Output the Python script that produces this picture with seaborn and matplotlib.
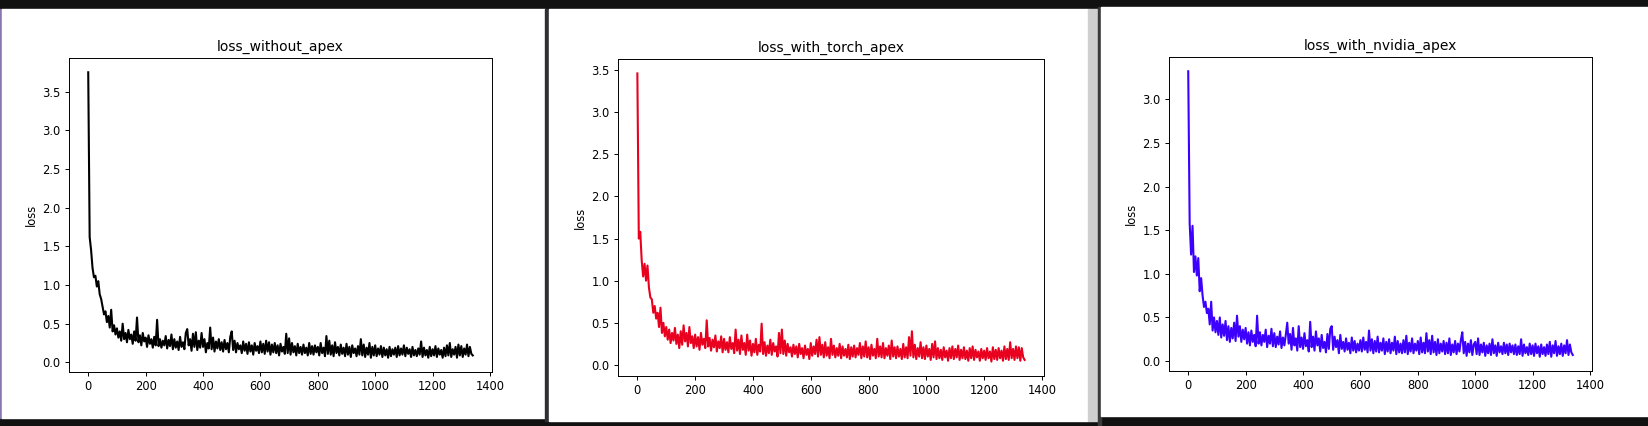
import numpy as np
import seaborn as sns
import matplotlib.pyplot as plt
from matplotlib.patches import Rectangle

# loss, one value every 5 iterations
step_interval = 5

loss_without_apex = [
    3.75, 1.62, 1.45, 1.22, 1.10, 1.12, 0.98, 1.05, 0.88, 0.82,
    0.72, 0.62, 0.66, 0.52, 0.60, 0.45, 0.68, 0.40, 0.48, 0.36,
    0.44, 0.32, 0.40, 0.28, 0.50, 0.30, 0.38, 0.26, 0.42, 0.30,
    0.36, 0.24, 0.40, 0.28, 0.58, 0.26, 0.35, 0.22, 0.38, 0.27,
    0.32, 0.20, 0.35, 0.24, 0.30, 0.19, 0.33, 0.22, 0.55, 0.21,
    0.30, 0.19, 0.28, 0.22, 0.34, 0.18, 0.29, 0.21, 0.36, 0.17,
    0.30, 0.19, 0.27, 0.16, 0.33, 0.20, 0.26, 0.17, 0.38, 0.43,
    0.22, 0.30, 0.15, 0.37, 0.20, 0.39, 0.16, 0.28, 0.19, 0.38,
    0.20, 0.30, 0.13, 0.25, 0.18, 0.45, 0.17, 0.32, 0.14, 0.27,
    0.18, 0.30, 0.16, 0.26, 0.14, 0.29, 0.17, 0.25, 0.13, 0.33,
    0.40, 0.16, 0.28, 0.13, 0.25, 0.17, 0.22, 0.12, 0.27, 0.15,
    0.24, 0.11, 0.26, 0.14, 0.22, 0.10, 0.25, 0.15, 0.21, 0.12,
    0.27, 0.13, 0.24, 0.11, 0.28, 0.14, 0.26, 0.10, 0.23, 0.13,
    0.25, 0.12, 0.22, 0.09, 0.24, 0.14, 0.20, 0.11, 0.37, 0.12,
    0.31, 0.10, 0.25, 0.13, 0.21, 0.09, 0.24, 0.12, 0.20, 0.10,
    0.23, 0.12, 0.19, 0.09, 0.25, 0.11, 0.21, 0.10, 0.22, 0.13,
    0.20, 0.09, 0.25, 0.12, 0.19, 0.08, 0.34, 0.11, 0.28, 0.10,
    0.22, 0.08, 0.26, 0.12, 0.20, 0.09, 0.23, 0.11, 0.19, 0.08,
    0.24, 0.10, 0.20, 0.07, 0.22, 0.12, 0.18, 0.08, 0.21, 0.10,
    0.30, 0.09, 0.23, 0.07, 0.19, 0.10, 0.25, 0.06, 0.20, 0.09,
    0.22, 0.08, 0.18, 0.10, 0.21, 0.07, 0.19, 0.09, 0.17, 0.06,
    0.20, 0.08, 0.17, 0.10, 0.19, 0.07, 0.21, 0.09, 0.18, 0.10,
    0.22, 0.08, 0.19, 0.11, 0.17, 0.07, 0.20, 0.09, 0.16, 0.08,
    0.18, 0.10, 0.27, 0.07, 0.19, 0.09, 0.16, 0.06, 0.20, 0.08,
    0.17, 0.09, 0.21, 0.07, 0.18, 0.10, 0.16, 0.06, 0.19, 0.08,
    0.22, 0.09, 0.25, 0.07, 0.17, 0.10, 0.20, 0.06, 0.23, 0.09,
    0.21, 0.07, 0.18, 0.10, 0.23, 0.08, 0.20, 0.11, 0.09,
]

loss_with_torch_apex = [
    3.46, 1.50, 1.58, 1.24, 1.05, 1.20, 1.00, 1.18, 0.92, 0.80,
    0.78, 0.62, 0.70, 0.55, 0.62, 0.45, 0.68, 0.38, 0.50, 0.34,
    0.45, 0.30, 0.42, 0.26, 0.38, 0.29, 0.44, 0.25, 0.36, 0.20,
    0.40, 0.24, 0.47, 0.28, 0.38, 0.22, 0.45, 0.26, 0.34, 0.20,
    0.36, 0.22, 0.33, 0.18, 0.38, 0.24, 0.31, 0.20, 0.53, 0.22,
    0.32, 0.17, 0.30, 0.21, 0.35, 0.16, 0.28, 0.20, 0.34, 0.15,
    0.31, 0.18, 0.27, 0.15, 0.33, 0.19, 0.26, 0.14, 0.42, 0.17,
    0.30, 0.13, 0.35, 0.18, 0.26, 0.12, 0.36, 0.17, 0.29, 0.11,
    0.25, 0.15, 0.31, 0.12, 0.24, 0.16, 0.49, 0.13, 0.27, 0.11,
    0.23, 0.14, 0.30, 0.12, 0.26, 0.16, 0.22, 0.10, 0.38, 0.14,
    0.42, 0.13, 0.29, 0.11, 0.25, 0.15, 0.21, 0.10, 0.24, 0.13,
    0.22, 0.09, 0.25, 0.13, 0.20, 0.08, 0.23, 0.12, 0.19, 0.07,
    0.26, 0.11, 0.22, 0.13, 0.30, 0.10, 0.33, 0.12, 0.24, 0.09,
    0.27, 0.11, 0.21, 0.08, 0.31, 0.12, 0.23, 0.09, 0.20, 0.11,
    0.25, 0.08, 0.22, 0.11, 0.19, 0.09, 0.24, 0.07, 0.21, 0.10,
    0.23, 0.09, 0.20, 0.12, 0.26, 0.08, 0.22, 0.10, 0.28, 0.09,
    0.21, 0.07, 0.24, 0.11, 0.19, 0.08, 0.31, 0.10, 0.22, 0.09,
    0.26, 0.08, 0.20, 0.11, 0.23, 0.07, 0.29, 0.10, 0.21, 0.08,
    0.22, 0.10, 0.19, 0.07, 0.25, 0.09, 0.21, 0.08, 0.33, 0.11,
    0.40, 0.09, 0.24, 0.07, 0.20, 0.10, 0.27, 0.08, 0.21, 0.07,
    0.23, 0.10, 0.19, 0.06, 0.25, 0.09, 0.28, 0.07, 0.20, 0.08,
    0.18, 0.06, 0.21, 0.09, 0.17, 0.05, 0.20, 0.08, 0.22, 0.07,
    0.19, 0.09, 0.23, 0.06, 0.18, 0.08, 0.21, 0.07, 0.17, 0.05,
    0.20, 0.08, 0.22, 0.06, 0.18, 0.09, 0.16, 0.05, 0.19, 0.08,
    0.17, 0.06, 0.20, 0.08, 0.16, 0.04, 0.21, 0.07, 0.18, 0.06,
    0.20, 0.08, 0.17, 0.05, 0.22, 0.07, 0.19, 0.06, 0.27, 0.08,
    0.19, 0.06, 0.22, 0.08, 0.21, 0.05, 0.20, 0.09, 0.06,
]

loss_with_nvidia_apex = [
    3.32, 1.58, 1.22, 1.55, 1.02, 1.20, 0.98, 1.18, 0.80, 0.95,
    0.75, 0.62, 0.68, 0.55, 0.60, 0.42, 0.68, 0.35, 0.50, 0.33,
    0.46, 0.30, 0.50, 0.27, 0.42, 0.29, 0.46, 0.24, 0.40, 0.22,
    0.38, 0.26, 0.44, 0.23, 0.52, 0.28, 0.40, 0.22, 0.36, 0.25,
    0.38, 0.20, 0.33, 0.18, 0.35, 0.22, 0.30, 0.17, 0.52, 0.20,
    0.33, 0.18, 0.30, 0.22, 0.36, 0.16, 0.29, 0.20, 0.37, 0.17,
    0.32, 0.16, 0.28, 0.19, 0.34, 0.15, 0.27, 0.18, 0.30, 0.44,
    0.20, 0.31, 0.13, 0.38, 0.18, 0.26, 0.12, 0.40, 0.16, 0.27,
    0.14, 0.32, 0.17, 0.24, 0.11, 0.45, 0.16, 0.28, 0.12, 0.34,
    0.18, 0.26, 0.11, 0.30, 0.15, 0.22, 0.10, 0.31, 0.14, 0.37,
    0.40, 0.13, 0.28, 0.16, 0.24, 0.09, 0.30, 0.14, 0.22, 0.11,
    0.26, 0.13, 0.21, 0.09, 0.27, 0.12, 0.23, 0.10, 0.20, 0.12,
    0.24, 0.11, 0.27, 0.13, 0.22, 0.10, 0.35, 0.12, 0.25, 0.09,
    0.23, 0.11, 0.28, 0.10, 0.21, 0.12, 0.26, 0.08, 0.22, 0.11,
    0.25, 0.09, 0.21, 0.12, 0.28, 0.08, 0.23, 0.10, 0.20, 0.09,
    0.24, 0.10, 0.29, 0.08, 0.21, 0.11, 0.26, 0.09, 0.20, 0.12,
    0.23, 0.08, 0.27, 0.10, 0.21, 0.09, 0.32, 0.11, 0.24, 0.08,
    0.29, 0.10, 0.22, 0.07, 0.25, 0.09, 0.20, 0.11, 0.23, 0.08,
    0.21, 0.09, 0.26, 0.07, 0.19, 0.10, 0.23, 0.08, 0.20, 0.11,
    0.24, 0.33, 0.09, 0.22, 0.06, 0.20, 0.10, 0.24, 0.07, 0.19,
    0.22, 0.08, 0.26, 0.07, 0.19, 0.10, 0.21, 0.06, 0.18, 0.09,
    0.20, 0.07, 0.25, 0.09, 0.18, 0.06, 0.21, 0.10, 0.17, 0.08,
    0.21, 0.09, 0.19, 0.07, 0.20, 0.10, 0.18, 0.08, 0.19, 0.07,
    0.17, 0.08, 0.25, 0.06, 0.19, 0.09, 0.16, 0.07, 0.20, 0.08,
    0.18, 0.06, 0.20, 0.09, 0.17, 0.05, 0.19, 0.08, 0.16, 0.06,
    0.19, 0.08, 0.22, 0.05, 0.18, 0.09, 0.23, 0.06, 0.17, 0.08,
    0.20, 0.06, 0.18, 0.09, 0.24, 0.07, 0.19, 0.10, 0.07,
]

titles = ["loss_without_apex", "loss_with_torch_apex", "loss_with_nvidia_apex"]
series = [loss_without_apex, loss_with_torch_apex, loss_with_nvidia_apex]
colors = ["#000000", "#e8001e", "#3c00ff"]

W, H = 1649, 426
plt.rcParams.update({
    "font.size": 8.3,
    "axes.linewidth": 0.7,
    "xtick.major.width": 0.7,
    "ytick.major.width": 0.7,
    "xtick.major.size": 3,
    "ytick.major.size": 3,
    "xtick.major.pad": 3,
    "ytick.major.pad": 3,
})

fig = plt.figure(figsize=(W / 100, H / 100), dpi=100, facecolor="#111111")


def px_rect(x0, y0, x1, y1, color):
    # rectangle given in screenshot pixels (origin top-left), drawn behind the axes
    fig.patches.append(Rectangle((x0 / W, 1 - y1 / H), (x1 - x0) / W, (y1 - y0) / H,
                                 transform=fig.transFigure, color=color, zorder=-10))


# the three screenshot windows and the gaps between them
px_rect(0, 9, 2, 418, "#8878b0")
px_rect(2, 9, 545, 418, "white")
px_rect(545, 9, 549, 421, "#2e2e34")
px_rect(549, 9, 1088, 421, "white")
px_rect(1088, 9, 1098, 421, "#cfcfcf")
px_rect(1098, 7, 1101, 426, "#3a3a3a")
px_rect(1101, 7, 1649, 416, "white")

# axes boxes in pixels: left, top, right, bottom
boxes = [(69, 58, 492, 372), (618, 59, 1044, 376), (1169, 57, 1592, 371)]

for (l, t, r, b), title, loss, color in zip(boxes, titles, series, colors):
    ax = fig.add_axes([l / W, 1 - b / H, (r - l) / W, (b - t) / H], zorder=1)
    steps = np.arange(len(loss)) * step_interval
    sns.lineplot(x=steps, y=loss, ax=ax, color=color, linewidth=1.5, estimator=None)
    ax.set_title(title, fontsize=10, pad=5)
    ax.set_ylabel("loss", labelpad=3.4)
    ax.set_xticks([0, 200, 400, 600, 800, 1000, 1200, 1400])

fig.savefig("out.png", dpi=100, facecolor=fig.get_facecolor())
